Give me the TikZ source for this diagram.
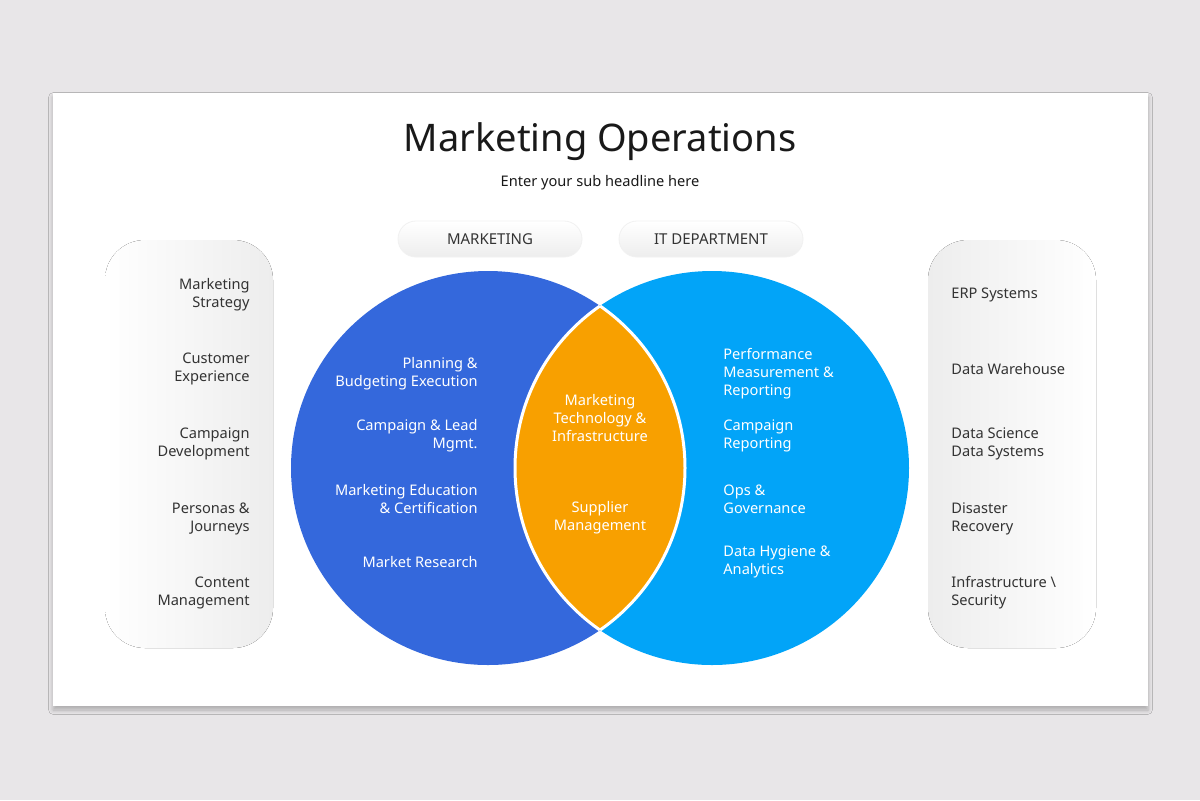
\documentclass[tikz,border=0pt]{standalone}
\usepackage{fontspec}
\setmainfont{Noto Sans}
\usetikzlibrary{shadows.blur}
\definecolor{bg}{HTML}{E8E6E8}
\definecolor{blueL}{HTML}{3468DC}
\definecolor{blueR}{HTML}{02A4F8}
\definecolor{orng}{HTML}{F8A000}
\definecolor{txt}{HTML}{333333}
\definecolor{pan}{HTML}{EDEDED}
\begin{document}
\begin{tikzpicture}[x=0.5pt,y=-0.5pt,
  body/.style={font=\fontsize{7.3}{9}\selectfont,text=txt,inner sep=0},
  wt/.style={font=\fontsize{7.3}{9}\selectfont,text=white,inner sep=0},
  lt/.style={body,align=right,anchor=east},
  rt/.style={body,align=left,anchor=west},
  pill/.style={rounded corners=9pt,top color=white,bottom color=pan,draw=pan!80,line width=0.4pt,minimum width=92pt,minimum height=18pt,font=\fontsize{7.5}{9}\selectfont\bfseries,text=txt}]
\useasboundingbox (0,0) rectangle (1200,800);
\fill[bg] (0,0) rectangle (1200,800);
\fill[white,blur shadow={shadow xshift=0pt,shadow yshift=-2pt,shadow opacity=25}] (53,93) rectangle (1148,706);
\node (title) at (600,142) {\fontsize{19}{22}\selectfont\color{black!90}Marketing Operations};
\node (sub) at (600,183) {\fontsize{7.3}{9}\selectfont\color{black!90}Enter your sub headline here};
% side panels
\fill[left color=white,right color=pan,rounded corners=20pt] (105,240) rectangle (273,648);
\fill[left color=pan,right color=white,rounded corners=20pt] (928,240) rectangle (1096,648);
\node[pill] (mk) at (490,239) {MARKETING};
\node[pill] (it) at (711,239) {IT DEPARTMENT};
% circles
\fill[blueL] (488,468) circle (197);
\fill[blueR] (712,468) circle (197);
\begin{scope}
\clip (488,468) circle (197);
\fill[orng] (712,468) circle (197);
\end{scope}
\begin{scope}
\clip (488,468) circle (197);
\draw[white,line width=1.5pt] (712,468) circle (197);
\end{scope}
\begin{scope}
\clip (712,468) circle (197);
\draw[white,line width=1.5pt] (488,468) circle (197);
\end{scope}
% left panel
\node[lt] (l1) at (250,295) {Marketing\\Strategy};
\node[lt] (l2) at (250,369) {Customer\\Experience};
\node[lt] (l3) at (250,444) {Campaign\\Development};
\node[lt] (l4) at (250,519) {Personas \&\\Journeys};
\node[lt] (l5) at (250,593) {Content\\Management};
% right panel
\node[rt] (r1) at (951,295) {ERP Systems};
\node[rt] (r2) at (951,369) {Data Warehouse};
\node[rt] (r3) at (951,444) {Data Science\\Data Systems};
\node[rt] (r4) at (951,519) {Disaster\\Recovery};
\node[rt] (r5) at (951,593) {Infrastructure \textbackslash\\Security};
% left circle
\node[wt,align=right,anchor=east] (c1) at (478,374) {Planning \&\\Budgeting Execution};
\node[wt,align=right,anchor=east] (c2) at (478,436) {Campaign \& Lead\\Mgmt.};
\node[wt,align=right,anchor=east] (c3) at (478,499) {Marketing Education\\\& Certification};
\node[wt,align=right,anchor=east] (c4) at (478,562) {Market Research};
% right circle
\node[wt,align=left,anchor=west] (d1) at (723,374) {Performance\\Measurement \&\\Reporting};
\node[wt,align=left,anchor=west] (d2) at (723,436) {Campaign\\Reporting};
\node[wt,align=left,anchor=west] (d3) at (723,499) {Ops \&\\Governance};
\node[wt,align=left,anchor=west] (d4) at (723,562) {Data Hygiene \&\\Analytics};
% lens
\node[wt,align=center,font=\fontsize{7.3}{9}\selectfont\bfseries] (e1) at (600,418) {Marketing\\Technology \&\\Infrastructure};
\node[wt,align=center,font=\fontsize{7.3}{9}\selectfont\bfseries] (e2) at (600,518) {Supplier\\Management};
\end{tikzpicture}
\end{document}
